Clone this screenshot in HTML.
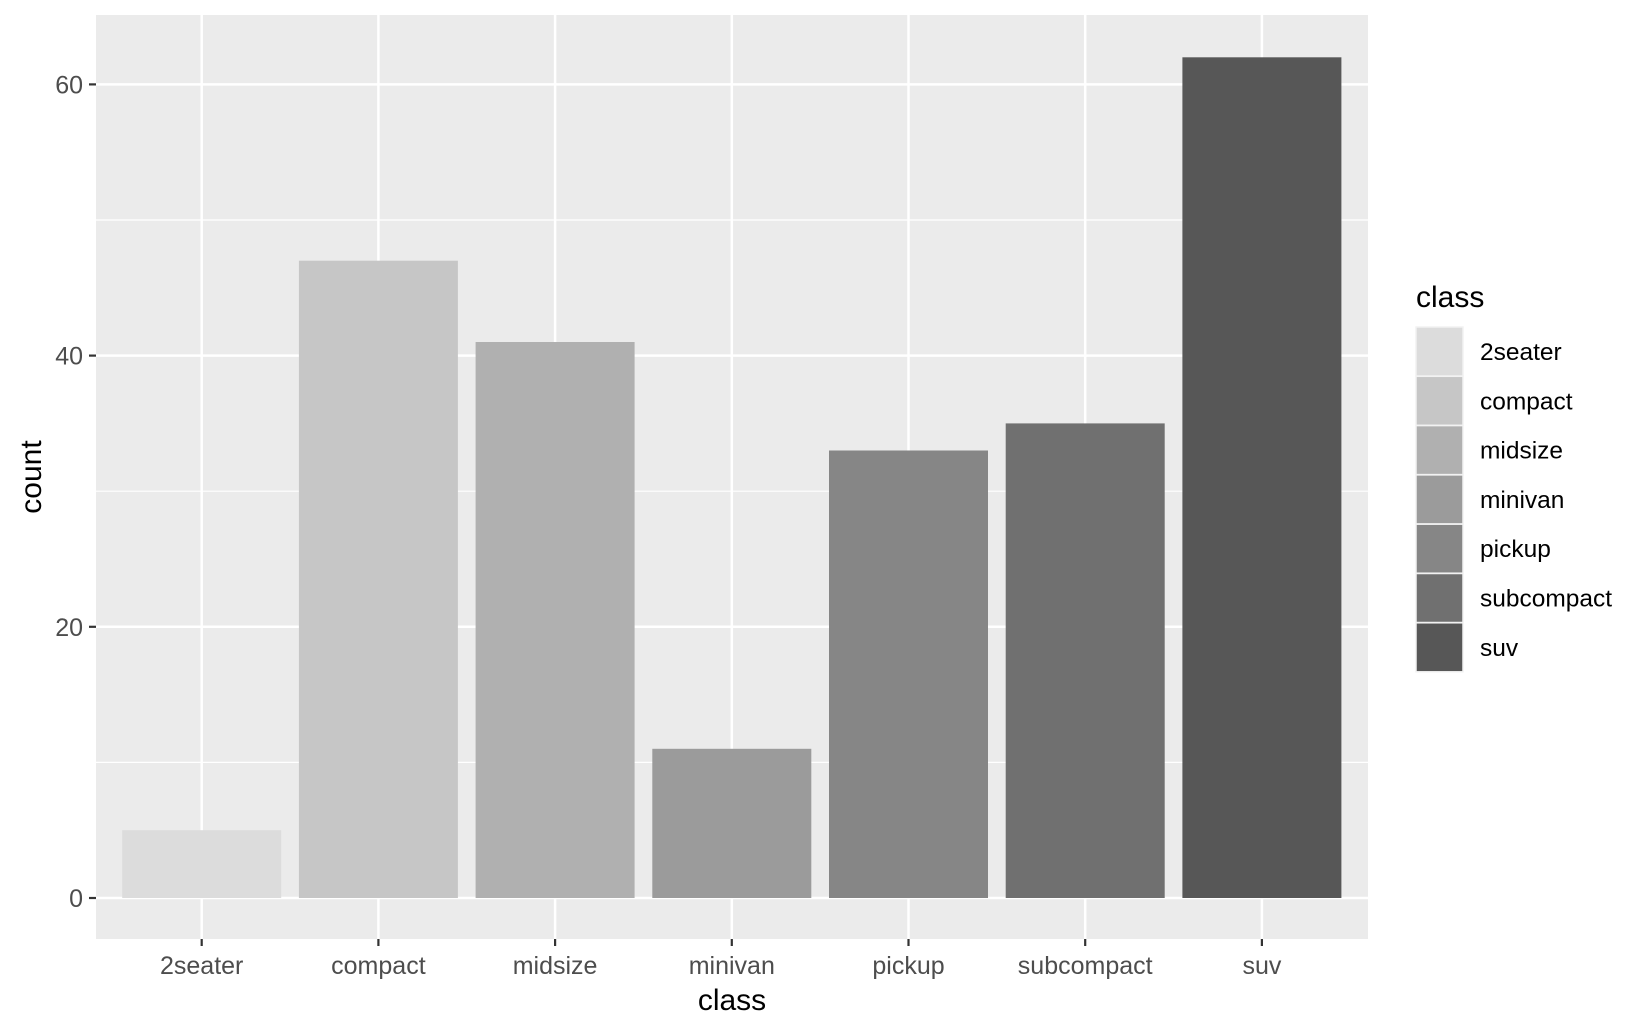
<!DOCTYPE html>
<html><head><style>body{margin:0;background:#fff}</style></head><body>
<svg width="1650" height="1031" xmlns="http://www.w3.org/2000/svg" font-family="Liberation Sans, Arial, sans-serif">
<rect x="96" y="15" width="1272" height="924" fill="#ebebeb"/>
<g stroke="#fff" stroke-width="1.2">
<line x1="96" x2="1368" y1="762.4" y2="762.4"/><line x1="96" x2="1368" y1="491.2" y2="491.2"/><line x1="96" x2="1368" y1="220" y2="220"/>
</g>
<g stroke="#fff" stroke-width="2.5">
<line x1="96" x2="1368" y1="898" y2="898"/><line x1="96" x2="1368" y1="626.8" y2="626.8"/><line x1="96" x2="1368" y1="355.6" y2="355.6"/><line x1="96" x2="1368" y1="84.4" y2="84.4"/>
<line x1="201.7" x2="201.7" y1="15" y2="939"/><line x1="378.4" x2="378.4" y1="15" y2="939"/><line x1="555.1" x2="555.1" y1="15" y2="939"/><line x1="731.8" x2="731.8" y1="15" y2="939"/><line x1="908.5" x2="908.5" y1="15" y2="939"/><line x1="1085.2" x2="1085.2" y1="15" y2="939"/><line x1="1261.9" x2="1261.9" y1="15" y2="939"/>
</g>
<rect x="122.2" y="830.2" width="159" height="67.8" fill="#dcdcdc"/>
<rect x="298.9" y="260.7" width="159" height="637.3" fill="#c6c6c6"/>
<rect x="475.6" y="342" width="159" height="556" fill="#b0b0b0"/>
<rect x="652.3" y="748.8" width="159" height="149.2" fill="#9b9b9b"/>
<rect x="829" y="450.5" width="159" height="447.5" fill="#868686"/>
<rect x="1005.7" y="423.4" width="159" height="474.6" fill="#707070"/>
<rect x="1182.4" y="57.3" width="159" height="840.7" fill="#575757"/>
<g stroke="#333" stroke-width="2.2">
<line x1="89" x2="96" y1="898" y2="898"/><line x1="89" x2="96" y1="626.8" y2="626.8"/><line x1="89" x2="96" y1="355.6" y2="355.6"/><line x1="89" x2="96" y1="84.4" y2="84.4"/>
<line x1="201.7" x2="201.7" y1="939" y2="946"/><line x1="378.4" x2="378.4" y1="939" y2="946"/><line x1="555.1" x2="555.1" y1="939" y2="946"/><line x1="731.8" x2="731.8" y1="939" y2="946"/><line x1="908.5" x2="908.5" y1="939" y2="946"/><line x1="1085.2" x2="1085.2" y1="939" y2="946"/><line x1="1261.9" x2="1261.9" y1="939" y2="946"/>
</g>
<g fill="#4d4d4d" font-size="25" text-anchor="end">
<text x="83" y="907">0</text><text x="83" y="635.8">20</text><text x="83" y="364.6">40</text><text x="83" y="93.4">60</text>
</g>
<g fill="#4d4d4d" font-size="25" text-anchor="middle">
<text x="201.7" y="974">2seater</text><text x="378.4" y="974">compact</text><text x="555.1" y="974">midsize</text><text x="731.8" y="974">minivan</text><text x="908.5" y="974">pickup</text><text x="1085.2" y="974">subcompact</text><text x="1261.9" y="974">suv</text>
</g>
<text x="732" y="1010" font-size="30" text-anchor="middle" fill="#000">class</text>
<text transform="translate(41,477) rotate(-90)" font-size="30" text-anchor="middle" fill="#000">count</text>
<text x="1416" y="307" font-size="30" fill="#000">class</text>
<g stroke="#f2f2f2" stroke-width="1.5">
<rect x="1416" y="327" width="47" height="49" fill="#dcdcdc"/>
<rect x="1416" y="376.3" width="47" height="49" fill="#c6c6c6"/>
<rect x="1416" y="425.6" width="47" height="49" fill="#b0b0b0"/>
<rect x="1416" y="474.9" width="47" height="49" fill="#9b9b9b"/>
<rect x="1416" y="524.2" width="47" height="49" fill="#868686"/>
<rect x="1416" y="573.5" width="47" height="49" fill="#707070"/>
<rect x="1416" y="622.8" width="47" height="49" fill="#575757"/>
</g>
<g font-size="24.5" fill="#000">
<text x="1480" y="360">2seater</text><text x="1480" y="409.3">compact</text><text x="1480" y="458.6">midsize</text><text x="1480" y="507.9">minivan</text><text x="1480" y="557.2">pickup</text><text x="1480" y="606.5">subcompact</text><text x="1480" y="655.8">suv</text>
</g>
</svg>
</body></html>
